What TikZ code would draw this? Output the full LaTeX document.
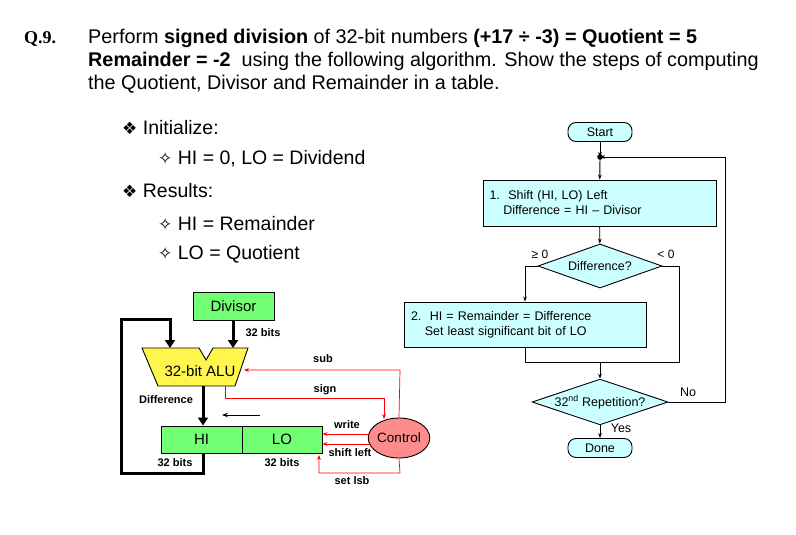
\documentclass[tikz,border=0pt]{standalone}
\usepackage{fontspec}
\setmainfont{Liberation Sans}
\newfontfamily\qfont{Liberation Serif}
\newfontfamily\symf{DejaVu Sans}
\newcommand{\bsy}[1]{{\symf\fontsize{17}{18}\selectfont #1}}
\usetikzlibrary{shapes.geometric,arrows.meta}
\definecolor{fcyan}{HTML}{CCFFFF}
\begin{document}
\begin{tikzpicture}[x=1pt,y=-1pt,
 fc/.style={draw,fill=fcyan,line width=0.9pt,font=\fontsize{12.5}{15}\selectfont},
 term/.style={fc,rounded corners=8pt,minimum width=64,minimum height=19,inner sep=1pt},
 dia/.style={fc,diamond,aspect=2.8,inner sep=0pt},
 fl/.style={line width=0.9pt,-{Stealth[length=5pt]}},
 gbox/.style={draw,fill=green!55,line width=0.9pt,font=\fontsize{15}{17}\selectfont,inner sep=0pt},
 thick/.style={line width=3pt,-{Triangle[length=8pt,width=10pt]}},
 rl/.style={red,line width=0.7pt,-{Stealth[length=5pt]}},
 lab/.style={font=\bfseries\fontsize{11}{12}\selectfont,inner sep=0pt},
 tl/.style={anchor=west,inner sep=0pt,font=\fontsize{19.8}{22}\selectfont},
 bl/.style={anchor=west,inner sep=0pt,font=\fontsize{19.5}{22}\selectfont}]
\useasboundingbox (0,0) rectangle (796,535);
% title
\node[anchor=west,inner sep=0pt,font=\qfont\bfseries\fontsize{18}{20}\selectfont] (q) at (24,39) {Q.9.};
\node[tl] (t1) at (88,38) {Perform \textbf{signed division} of 32-bit numbers \textbf{(+17 ÷ -3) = Quotient = 5}};
\node[tl] (t2) at (88,61) {\textbf{Remainder = -2}\ \ using the following algorithm. Show the steps of computing};
\node[tl] (t3) at (88,84) {the Quotient, Divisor and Remainder in a table.};
\node[bl] (b1) at (122,128) {\bsy{❖} Initialize:};
\node[bl] (b2) at (158,159) {\bsy{✧} HI = 0, LO = Dividend};
\node[bl] (b3) at (122,191) {\bsy{❖} Results:};
\node[bl] (b4) at (158,224) {\bsy{✧} HI = Remainder};
\node[bl] (b5) at (158,254) {\bsy{✧} LO = Quotient};
% flowchart
\node[term] (start) at (600,132) {Start};
\coordinate (dot) at (600,157);
\fill (dot) circle (2.8);
\node[fc,minimum width=233,minimum height=46,align=left,text width=220] (s1) at (599.5,203) {1.\ \ Shift (HI, LO) Left\\\hspace*{1.1em}Difference = HI – Divisor};
\node[dia,minimum width=124,minimum height=44] (d1) at (600,266) {Difference?};
\node[fc,minimum width=242,minimum height=45,align=left,text width=228] (s2) at (525,324.5) {2.\ \ HI = Remainder = Difference\\\hspace*{1.1em}Set least significant bit of LO};
\node[dia,minimum width=136,minimum height=44] (d2) at (600,402) {32\textsuperscript{nd} Repetition?};
\node[term] (done) at (600,448) {Done};
\coordinate (mj) at (600,362);
\draw[fl] (start) -- (dot);
\draw[fl] (dot) -- (s1);
\draw[fl] (s1) -- (d1);
\draw[fl] (d1.west) -| (s2.north);
\draw[line width=0.9pt] (d1.east) -| (679,362) -- (mj);
\draw[line width=0.9pt] (s2.south) |- (mj);
\draw[fl] (mj) -- (d2);
\draw[fl] (d2) -- (done);
\draw[fl] (d2.east) -- (725,402) |- (dot);
\node[font=\fontsize{12}{13}\selectfont] (ge) at (540,254) {≥ 0};
\node[font=\fontsize{12}{13}\selectfont] (lt) at (666,254) {< 0};
\node[font=\fontsize{12.5}{13}\selectfont] (no) at (688,392) {No};
\node[font=\fontsize{12.5}{13}\selectfont] (yes) at (621,428) {Yes};
% datapath
\node[gbox,minimum width=81,minimum height=28] (div) at (233.5,306) {Divisor};
\draw[line width=0.9pt,fill=yellow!70] (142,348) -- (199,348) -- (206,360) -- (213,348) -- (248,348) -- (235,386) -- (158,386) -- cycle;
\node[font=\fontsize{15}{17}\selectfont] (alu) at (200,371) {32-bit ALU};
\coordinate (aluR) at (244,370);
\node[gbox,minimum width=81,minimum height=27] (hi) at (201.5,439.5) {HI};
\node[gbox,minimum width=80,minimum height=27] (lo) at (282,439.5) {LO};
\node[draw,ellipse,fill=red!45,line width=0.9pt,minimum width=60,minimum height=40,inner sep=0pt,font=\fontsize{13.5}{15}\selectfont] (ctl) at (399,438) {Control};
\draw[thick] (div.south -| 233,0) -- (233,348);
\draw[thick] (203,386) -- (hi.north -| 203,0);
\draw[line width=3pt,line join=miter] (203,453) -- (203,473) -- (121,473) -- (121,319) -- (170,319) -- (170,335);
\draw[thick] (170,330) -- (170,348);
\draw[line width=0.9pt,-{Stealth[length=6pt]}] (260,415) -- (222,415);
\node[lab] (l32a) at (263,333) {32 bits};
\node[lab] (ldif) at (166,400) {Difference};
\node[lab] (l32b) at (175,463) {32 bits};
\node[lab] (l32c) at (282,463) {32 bits};
\draw[rl] (ctl.north) -- (400,370) -- (aluR);
\draw[rl] (225,386) -- (225,398) -- (384,398) -- (384,419);
\draw[rl] (369,434) -- (lo.east |- 0,434);
\draw[rl] (370,444) -- (lo.east |- 0,444);
\draw[rl] (ctl.south) -- (400,473) -- (319,473) -- (319,455);
\node[lab] (lsub) at (323,359) {sub};
\node[lab] (lsign) at (325,390) {sign};
\node[lab] (lw) at (347,425) {write};
\node[lab] (lsl) at (350,453) {shift left};
\node[lab] (lsb) at (352,481) {set lsb};
\end{tikzpicture}
\end{document}
